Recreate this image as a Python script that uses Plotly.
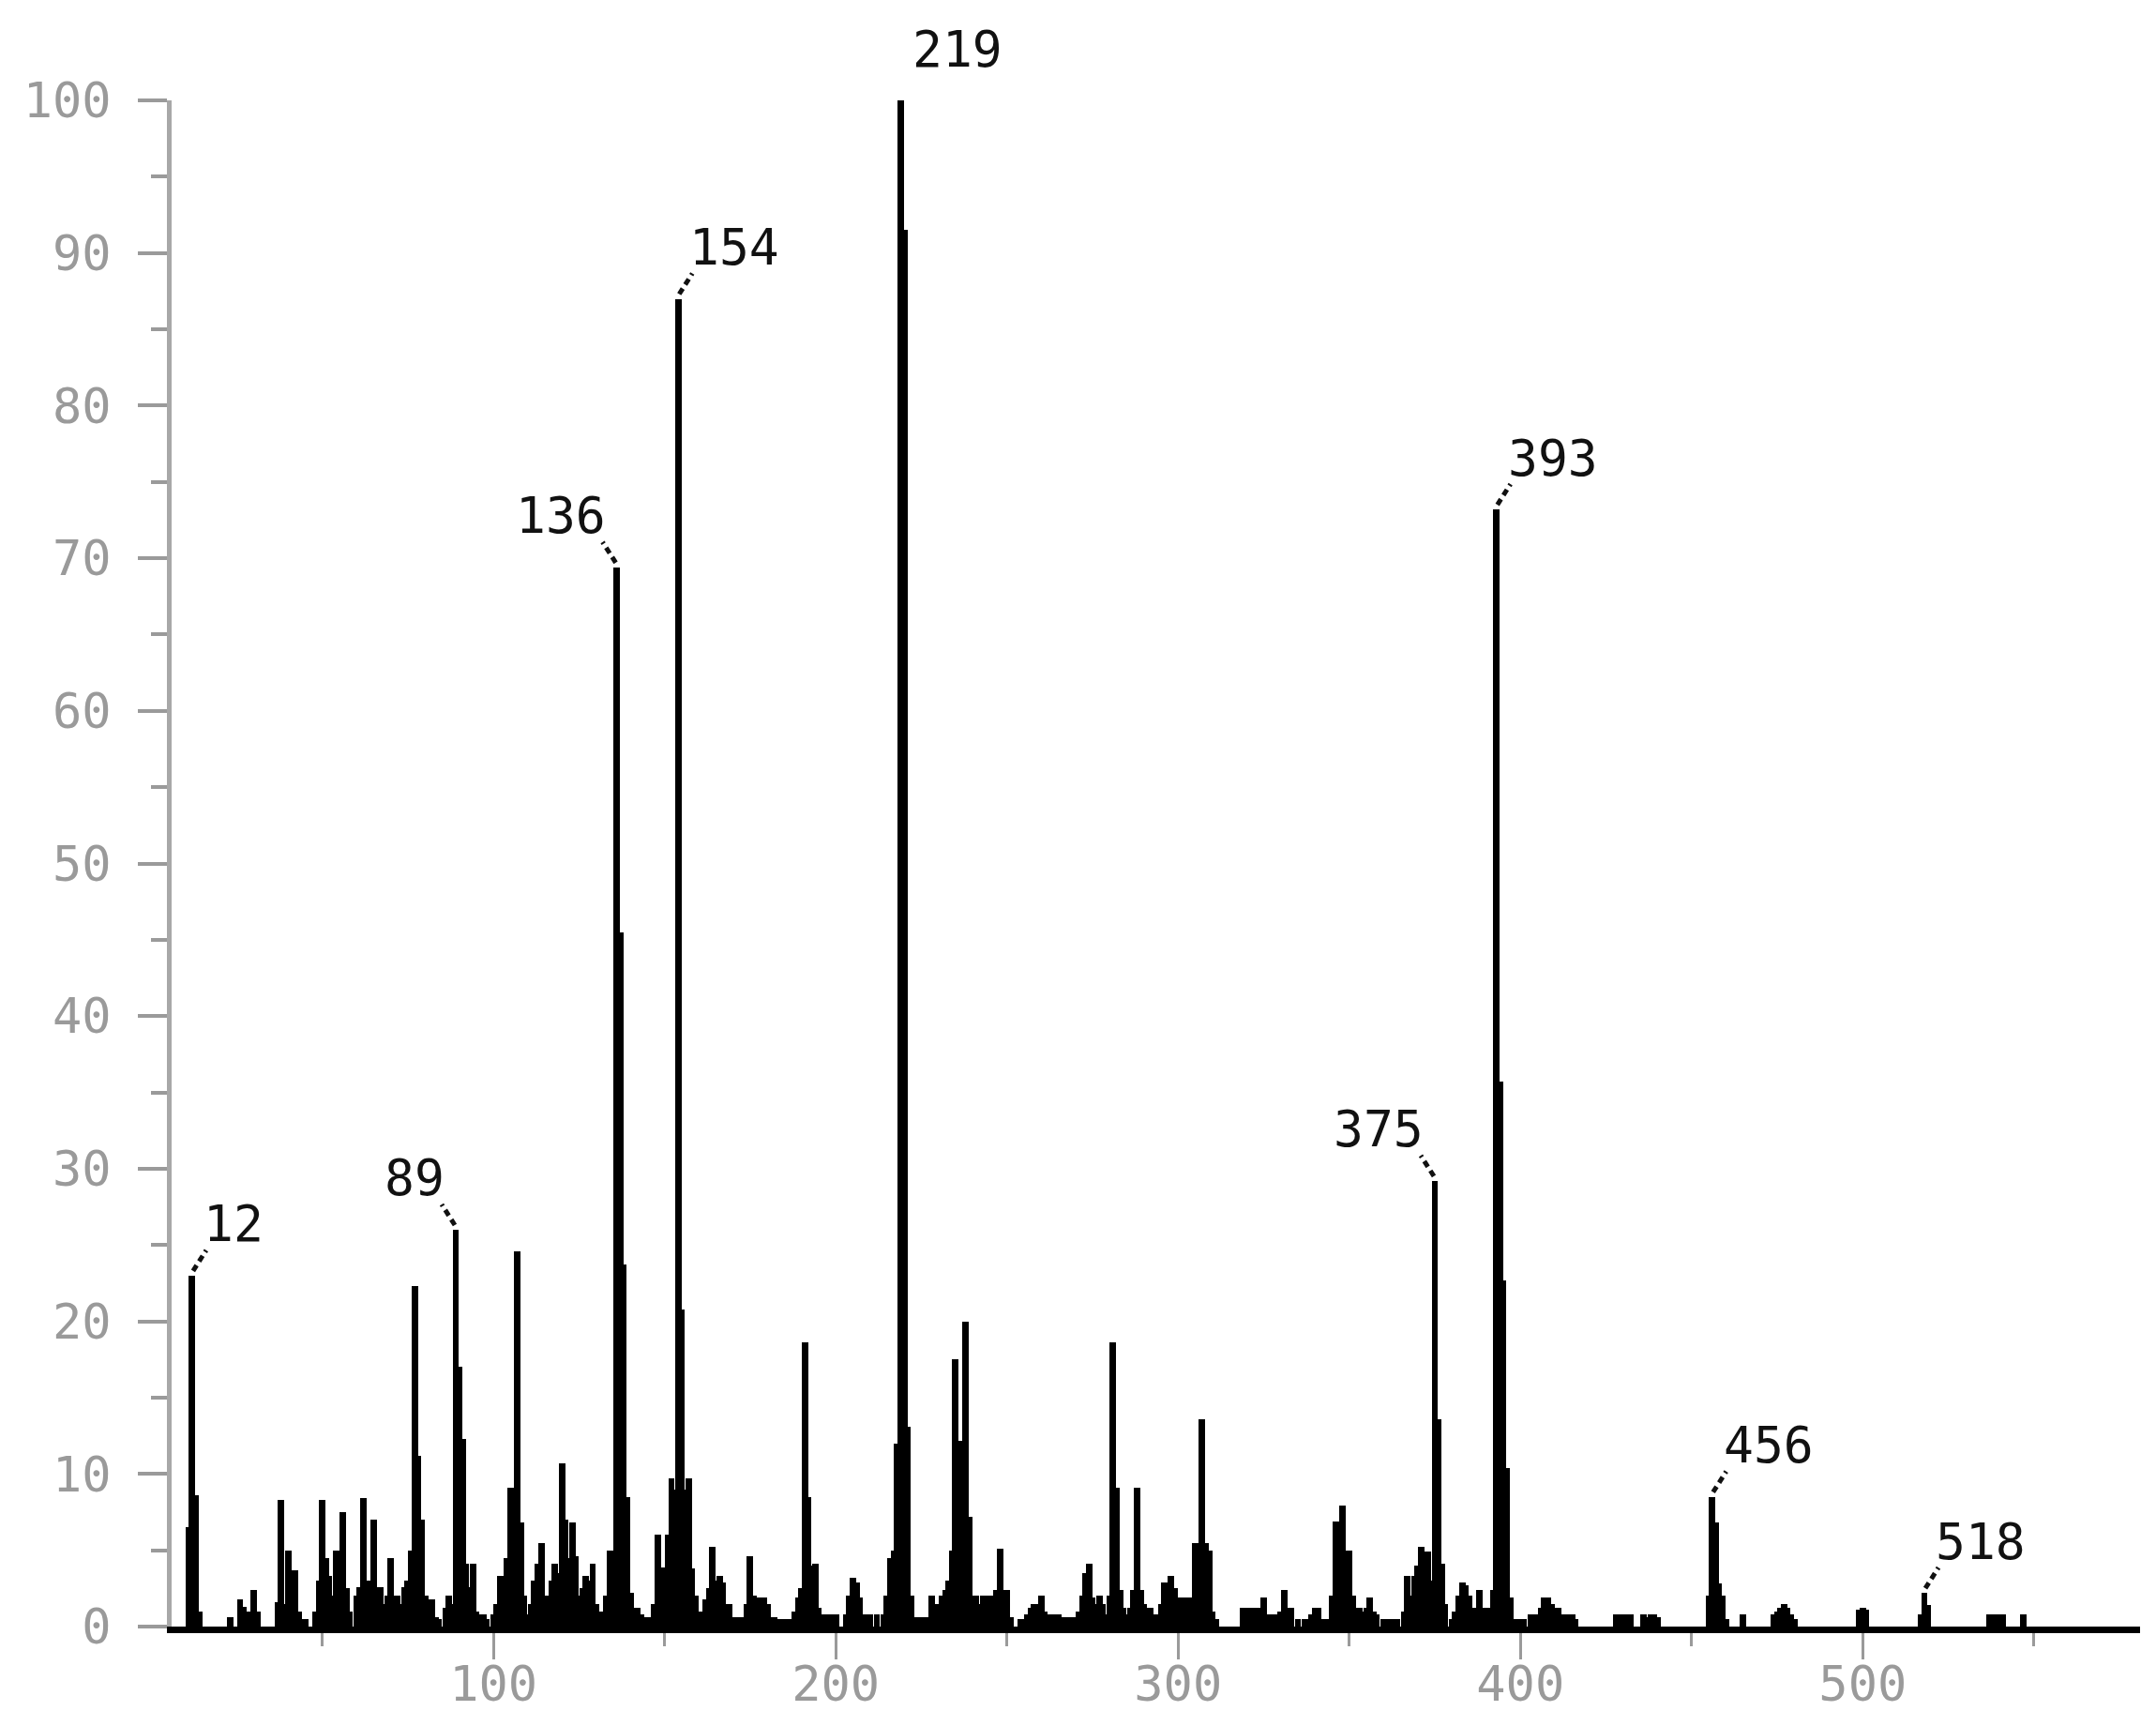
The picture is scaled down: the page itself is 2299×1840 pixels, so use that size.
import plotly.graph_objs as go

# m/z values and relative intensities
mz = [
    11, 12, 13, 14, 23, 26, 27, 28, 30, 31,
    37, 38, 39, 40, 41, 42, 43, 45, 48, 49,
    50, 51, 52, 53, 54, 55, 56, 57, 58, 60,
    61, 62, 63, 64, 65, 66, 67, 68, 69, 70,
    71, 72, 73, 74, 75, 76, 77, 78, 79, 80,
    81, 82, 83, 84, 86, 87, 88, 89, 90, 91,
    92, 93, 94, 95, 96, 97, 98, 100, 101, 102,
    103, 104, 105, 106, 107, 108, 109, 110, 111, 112,
    113, 114, 115, 116, 117, 118, 119, 120, 121, 122,
    123, 124, 125, 126, 127, 128, 129, 130, 131, 132,
    133, 134, 135, 136, 137, 138, 139, 140, 141, 142,
    143, 144, 145, 146, 147, 148, 149, 150, 151, 152,
    153, 154, 155, 156, 157, 158, 159, 160, 161, 162,
    163, 164, 165, 166, 167, 168, 169, 170, 171, 172,
    173, 174, 175, 176, 177, 178, 179, 180, 181, 182,
    183, 185, 187, 188, 189, 190, 191, 192, 193, 194,
    195, 196, 197, 198, 199, 200, 203, 204, 205, 206,
    207, 208, 209, 210, 212, 214, 215, 216, 217, 218,
    219, 220, 221, 222, 223, 224, 225, 226, 228, 229,
    230, 231, 232, 233, 234, 235, 236, 237, 238, 239,
    240, 241, 242, 243, 244, 245, 246, 247, 248, 249,
    250, 251, 254, 256, 257, 258, 259, 260, 261, 262,
    263, 264, 265, 266, 268, 270, 271, 272, 273, 274,
    275, 276, 277, 278, 279, 280, 281, 282, 283, 284,
    285, 286, 287, 288, 289, 290, 291, 292, 293, 294,
    295, 296, 297, 298, 299, 300, 301, 302, 303, 304,
    305, 306, 307, 308, 309, 310, 311, 319, 320, 321,
    322, 323, 324, 325, 326, 327, 328, 330, 331, 332,
    333, 335, 337, 339, 340, 341, 342, 344, 345, 346,
    347, 348, 349, 350, 351, 352, 353, 354, 355, 356,
    357, 358, 360, 362, 364, 366, 367, 368, 369, 370,
    371, 372, 373, 374, 375, 376, 377, 378, 380, 381,
    382, 383, 384, 385, 386, 387, 388, 389, 390, 391,
    392, 393, 394, 395, 396, 397, 398, 399, 401, 403,
    404, 405, 406, 407, 408, 409, 410, 411, 412, 413,
    414, 415, 416, 428, 429, 430, 431, 432, 436, 437,
    438, 439, 440, 455, 456, 457, 458, 459, 460, 465,
    474, 475, 476, 477, 478, 479, 480, 499, 500, 501,
    517, 518, 519, 537, 538, 539, 540, 541, 547,
]
rel_int = [
    6.5, 23.0, 8.6, 1.0, 0.6, 1.8, 1.3, 1.0, 2.4, 1.0,
    1.6, 8.3, 1.5, 5.0, 3.7, 3.7, 1.0, 0.5, 1.0, 3.0,
    8.3, 4.5, 3.3, 2.0, 5.0, 3.0, 7.5, 2.5, 1.0, 2.0,
    2.6, 8.4, 3.0, 2.5, 7.0, 2.5, 2.6, 1.5, 2.0, 4.5,
    2.0, 2.0, 1.5, 2.6, 3.0, 5.0, 22.3, 11.2, 7.0, 2.0,
    1.0, 1.8, 0.6, 0.5, 1.2, 2.0, 1.5, 26.0, 17.0, 12.3,
    4.1, 2.6, 4.1, 1.0, 0.8, 0.8, 0.5, 0.8, 1.5, 3.3,
    3.0, 4.5, 9.1, 7.0, 24.6, 6.8, 2.0, 0.8, 1.5, 3.0,
    4.1, 5.5, 2.0, 2.0, 3.0, 4.1, 3.5, 10.7, 7.0, 4.5,
    6.8, 4.6, 2.0, 2.5, 3.3, 3.0, 4.1, 1.5, 1.0, 1.0,
    2.0, 5.0, 4.2, 69.4, 45.5, 23.7, 8.5, 2.2, 1.2, 1.2,
    0.8, 0.6, 0.6, 0.5, 1.5, 6.0, 2.5, 3.9, 6.0, 9.7,
    9.0, 87.0, 20.8, 9.0, 9.7, 3.8, 2.0, 0.6, 1.0, 1.8,
    2.5, 5.2, 3.0, 3.3, 2.9, 1.5, 1.5, 0.6, 0.6, 0.6,
    0.6, 1.5, 4.6, 2.0, 1.5, 1.9, 1.9, 1.5, 0.6, 0.6,
    0.5, 0.5, 0.5, 1.0, 1.9, 2.5, 18.6, 8.5, 4.0, 4.1,
    1.2, 0.8, 0.8, 0.8, 0.8, 0.8, 0.8, 2.0, 3.2, 2.9,
    1.9, 0.8, 0.8, 0.8, 0.8, 0.8, 2.0, 4.5, 5.0, 12.0,
    100.0, 91.5, 13.1, 2.0, 0.6, 0.6, 0.6, 0.6, 2.0, 0.8,
    1.5, 2.0, 2.4, 3.0, 5.0, 17.5, 12.2, 9.5, 20.0, 7.2,
    2.0, 2.0, 1.5, 2.0, 2.0, 2.0, 2.0, 2.4, 5.1, 2.4,
    2.4, 0.6, 0.5, 0.8, 1.2, 1.5, 1.5, 2.0, 1.0, 0.8,
    0.8, 0.8, 0.8, 0.6, 0.6, 0.6, 1.0, 2.0, 3.5, 4.1,
    1.9, 1.5, 2.0, 1.5, 0.8, 2.0, 18.6, 9.1, 2.4, 1.2,
    0.8, 1.2, 2.4, 9.1, 2.4, 1.5, 1.2, 1.2, 0.8, 0.8,
    1.5, 2.9, 1.5, 3.3, 2.5, 1.9, 1.2, 1.9, 1.9, 1.9,
    5.5, 4.0, 13.6, 5.5, 5.0, 1.0, 0.5, 1.2, 1.2, 1.2,
    1.2, 1.0, 1.2, 1.9, 0.8, 0.8, 0.8, 1.0, 2.4, 1.2,
    1.2, 0.5, 0.5, 0.8, 1.2, 1.2, 0.5, 0.5, 2.0, 6.9,
    4.0, 7.9, 4.5, 5.0, 2.0, 1.0, 1.2, 1.0, 1.2, 1.9,
    1.0, 0.8, 0.5, 0.5, 0.5, 1.0, 3.3, 2.0, 3.3, 4.0,
    5.2, 4.2, 4.9, 3.0, 29.2, 13.6, 4.1, 1.5, 0.5, 1.0,
    2.0, 2.9, 2.7, 2.0, 0.8, 1.2, 2.4, 1.2, 1.0, 1.2,
    2.4, 73.2, 35.7, 22.7, 10.4, 1.9, 0.5, 0.5, 0.5, 0.8,
    0.8, 0.8, 1.2, 1.9, 1.9, 1.5, 1.2, 1.2, 0.8, 0.8,
    0.8, 0.8, 0.5, 0.8, 0.8, 0.8, 0.8, 0.8, 0.8, 0.6,
    0.8, 0.8, 0.6, 2.0, 8.5, 6.8, 2.8, 2.0, 0.5, 0.8,
    0.8, 1.0, 1.2, 1.5, 1.2, 0.8, 0.5, 1.1, 1.2, 1.1,
    0.8, 2.2, 1.4, 0.8, 0.8, 0.8, 0.8, 0.8, 0.8,
]

# labelled peaks and which side the label sits on
label_mz = [12, 89, 136, 154, 219, 375, 393, 456, 518]
label_side = ["right", "left", "left", "right", "right", "left", "right", "right", "right"]

y_ticks = [0, 10, 20, 30, 40, 50, 60, 70, 80, 90, 100]
x_ticks = [100, 200, 300, 400, 500]

FONT = "DejaVu Sans Mono"
GREY = "#9a9a9a"


def plot_spectrum():
    assert len(mz) == len(rel_int)
    trace = go.Bar(x=mz, y=rel_int, width=1.9,
                   marker=dict(color="black", line=dict(width=0)),
                   hoverinfo="x+y")
    fig = go.Figure(data=[trace])

    lookup = dict(zip(mz, rel_int))
    for m, side in zip(label_mz, label_side):
        h = lookup[m]
        sign = 1 if side == "right" else -1
        fig.add_annotation(x=m, y=h, text=str(m), showarrow=False,
                           xanchor="left" if side == "right" else "right",
                           yanchor="middle", xshift=10 * sign, yshift=55,
                           font=dict(family=FONT, size=53, color="#111111"))
        # short dashed leader from the peak top towards the label
        fig.add_shape(type="line", xref="x", yref="y",
                      xsizemode="pixel", ysizemode="pixel",
                      xanchor=m, yanchor=h,
                      x0=1 * sign, x1=15 * sign, y0=5, y1=27,
                      line=dict(color="#111111", width=5, dash="7px,5px"))

    fig.update_xaxes(range=[6, 581], tickvals=x_ticks, ticks="outside",
                     ticklen=28, tickwidth=3, tickcolor=GREY,
                     ticklabelstandoff=-18,
                     minor=dict(tick0=0, dtick=50, ticks="outside", ticklen=14,
                                tickwidth=3, tickcolor=GREY, showgrid=False),
                     showline=True, linecolor="black", linewidth=7,
                     showgrid=False, zeroline=False, automargin=False,
                     tickfont=dict(family=FONT, size=52, color=GREY))
    fig.update_yaxes(range=[0, 100], tickvals=y_ticks, ticks="outside",
                     ticklen=31, tickwidth=4, tickcolor=GREY,
                     ticklabelstandoff=18,
                     minor=dict(tick0=0, dtick=5, ticks="outside", ticklen=17,
                                tickwidth=4, tickcolor=GREY, showgrid=False),
                     showline=True, linecolor="#a8a8a8", linewidth=5,
                     showgrid=False, zeroline=False, automargin=False,
                     tickfont=dict(family=FONT, size=52, color=GREY))
    fig.update_layout(width=2299, height=1840, autosize=False,
                      margin=dict(l=175, r=25, t=99, b=114, pad=0),
                      plot_bgcolor="white", paper_bgcolor="white",
                      showlegend=False, bargap=0,
                      font=dict(family=FONT))
    return fig


fig = plot_spectrum()
fig.write_html("out.html")
